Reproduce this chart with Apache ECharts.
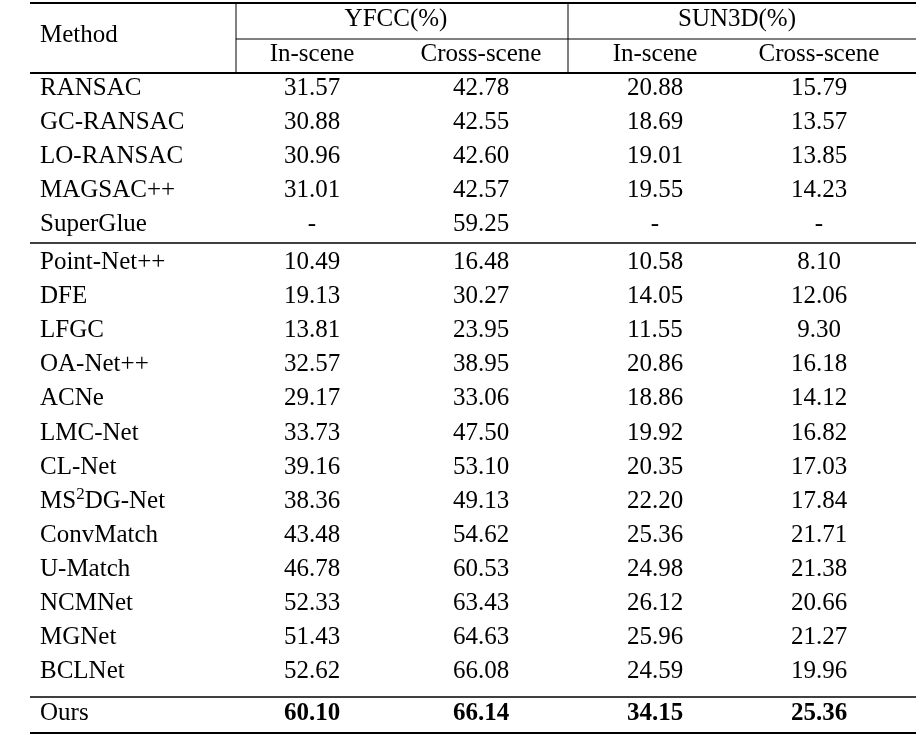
<!DOCTYPE html>
<html><head><meta charset="utf-8">
<script src="https://cdn.jsdelivr.net/npm/echarts@6/dist/echarts.min.js"></script>
<style>html,body{margin:0;padding:0;background:#fff}#c{width:923px;height:735px}</style>
</head><body><div id="c"></div>
<script>
const methods = ["RANSAC","GC-RANSAC","LO-RANSAC","MAGSAC++","SuperGlue","Point-Net++","DFE","LFGC","OA-Net++","ACNe","LMC-Net","CL-Net","MS2DG-Net","ConvMatch","U-Match","NCMNet","MGNet","BCLNet","Ours"];
const yfccIn = ["31.57","30.88","30.96","31.01","-","10.49","19.13","13.81","32.57","29.17","33.73","39.16","38.36","43.48","46.78","52.33","51.43","52.62","60.10"];
const yfccCross = ["42.78","42.55","42.60","42.57","59.25","16.48","30.27","23.95","38.95","33.06","47.50","53.10","49.13","54.62","60.53","63.43","64.63","66.08","66.14"];
const sunIn = ["20.88","18.69","19.01","19.55","-","10.58","14.05","11.55","20.86","18.86","19.92","20.35","22.20","25.36","24.98","26.12","25.96","24.59","34.15"];
const sunCross = ["15.79","13.57","13.85","14.23","-","8.10","12.06","9.30","16.18","14.12","16.82","17.03","17.84","21.71","21.38","20.66","21.27","19.96","25.36"];
const groupHeaders = ["YFCC(%)","SUN3D(%)"];
const subHeaders = ["In-scene","Cross-scene","In-scene","Cross-scene"];

const chart = echarts.init(document.getElementById('c'));
const F = '"Liberation Serif","Times New Roman",serif';
const fs = 25;
const colX = [312, 481, 655, 819];
const rowY = i => 88 + i*34.1 + (i>=5?4:0) + (i>=18?8:0);
const els = [];
function txt(x,y,t,align,bold,rich){
  els.push({type:'text',x:x,y:y,style:{text:t,x:0,y:0,align:align,verticalAlign:'middle',font:(bold?'bold ':'')+fs+'px '+F,fill:'#000',rich:rich}});
}
function line(x1,y1,x2,y2,w){ els.push({type:'line',shape:{x1,y1,x2,y2},style:{stroke:'#000',lineWidth:w}}); }
txt(40,35,'Method','left');
txt(396,19,groupHeaders[0],'center');
txt(737,19,groupHeaders[1],'center');
subHeaders.forEach((h,j)=>txt(colX[j],54,h,'center'));
const cols=[yfccIn,yfccCross,sunIn,sunCross];
methods.forEach((m,i)=>{
  const y=rowY(i);
  if(m==='MS2DG-Net'){
    els.push({type:'text',x:40,y:y,style:{text:'MS{s|2}DG-Net',x:0,y:0,align:'left',verticalAlign:'middle',font:fs+'px '+F,fill:'#000',rich:{s:{fontFamily:F,fontSize:17,verticalAlign:'top',padding:[0,0,14,0],fill:'#000'}}}});
  } else txt(40,y,m,'left');
  cols.forEach((c,j)=>txt(colX[j],y,c[i],'center',m==='Ours'));
});
line(30,3,916,3,2);
line(236,39,916,39,1);
line(236,4,236,72,1); line(568,4,568,72,1);
line(30,73,916,73,2);
line(30,243,916,243,1.5);
line(30,697,916,697,1.5);
line(30,733,916,733,2);
chart.setOption({animation:false,graphic:{elements:els}});
</script></body></html>
